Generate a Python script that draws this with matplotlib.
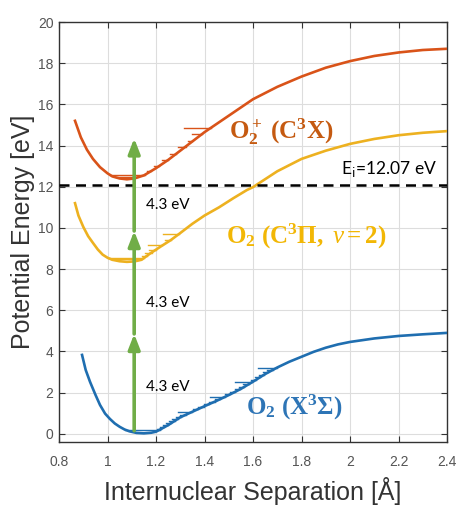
import numpy as np
import matplotlib.pyplot as plt

plt.rcParams['font.family'] = ['Liberation Sans', 'DejaVu Sans']
plt.rcParams['mathtext.fontset'] = 'custom'
plt.rcParams['mathtext.rm'] = 'Liberation Serif:bold'
plt.rcParams['mathtext.bf'] = 'Liberation Serif:bold'
plt.rcParams['mathtext.it'] = 'Liberation Serif:italic'

# potential curves (x in Angstrom, E in eV)
x_ground = [0.895, 0.91, 0.928, 0.95, 0.969, 0.99, 1.01, 1.03, 1.05, 1.07, 1.09, 1.12, 1.15, 1.18,
            1.2, 1.25, 1.3, 1.35, 1.4, 1.45, 1.5, 1.55, 1.6, 1.65, 1.7, 1.75, 1.8, 1.85, 1.9,
            1.95, 2.0, 2.1, 2.2, 2.3, 2.4]
e_ground = [3.83, 3.1, 2.52, 1.9, 1.4, 0.98, 0.72, 0.5, 0.34, 0.21, 0.12, 0.04, 0.02, 0.05,
            0.1, 0.42, 0.8, 1.07, 1.34, 1.6, 1.88, 2.18, 2.53, 2.9, 3.22, 3.5, 3.74, 3.98, 4.18,
            4.34, 4.46, 4.63, 4.75, 4.83, 4.9]

x_excited = [0.866, 0.88, 0.9, 0.92, 0.94, 0.96, 0.98, 1.0, 1.02, 1.05, 1.08, 1.11, 1.14, 1.175,
             1.22, 1.26, 1.3, 1.35, 1.4, 1.46, 1.52, 1.575, 1.6, 1.7, 1.8, 1.9, 2.0, 2.1, 2.2,
             2.3, 2.4]
e_excited = [11.2, 10.6, 10.05, 9.6, 9.27, 8.95, 8.7, 8.55, 8.45, 8.38, 8.35, 8.37, 8.45, 8.75,
             9.1, 9.4, 9.75, 10.2, 10.6, 11.0, 11.45, 11.84, 11.98, 12.75, 13.35, 13.75, 14.08,
             14.32, 14.5, 14.62, 14.7]

x_ion = [0.866, 0.89, 0.915, 0.94, 0.969, 1.0, 1.02, 1.05, 1.08, 1.11, 1.15, 1.2, 1.25, 1.3,
         1.35, 1.4, 1.45, 1.5, 1.55, 1.6, 1.7, 1.8, 1.9, 2.0, 2.1, 2.2, 2.3, 2.4]
e_ion = [15.2, 14.4, 13.8, 13.35, 12.95, 12.65, 12.5, 12.4, 12.36, 12.4, 12.55, 12.9, 13.3, 13.75,
         14.2, 14.65, 15.05, 15.45, 15.85, 16.25, 16.85, 17.35, 17.78, 18.1, 18.35, 18.52, 18.64,
         18.7]

# vibrational levels: energy and how far they reach left of the outer wall
lev_ground = [0.2, 0.22, 0.32, 0.42, 0.52, 0.62, 0.72, 0.82, 0.92, 1.07, 1.2, 1.32, 1.44, 1.56, 1.68,
              1.8, 1.92, 2.04, 2.16, 2.28, 2.4, 2.5, 2.62, 2.74, 2.86, 2.98, 3.1, 3.2]
len_ground = [1.0, 0.015, 0.02, 0.022, 0.022, 0.022, 0.022, 0.022, 0.022, 0.06, 0.022, 0.022, 0.022,
              0.022, 0.022, 0.065, 0.022, 0.022, 0.022, 0.022, 0.022, 0.07, 0.022, 0.022, 0.022,
              0.022, 0.022, 0.075]
lev_excited = [8.47, 8.55, 8.65, 8.8, 8.95, 9.15, 9.4, 9.7]
len_excited = [1.0, 1.0, 0.02, 0.025, 0.03, 0.06, 0.025, 0.065]
lev_ion = [12.45, 12.57, 12.75, 13.0, 13.3, 13.6, 13.95, 14.2, 14.55, 14.85]
len_ion = [1.0, 1.0, 0.015, 0.02, 0.025, 0.025, 0.03, 0.02, 0.04, 0.11]

# photon steps (green arrow)
x_photon = 1.11
photon_steps = [0.15, 4.85, 9.85, 14.35]
photon_label = '4.3 eV'
photon_label_y = [2.25, 6.35, 11.1]
e_ionization = 12.07

c_ground, c_excited, c_ion = '#1F6EB0', '#EDB120', '#D95319'


def draw_levels(ax, x, e, levels, lengths, color):
    x = np.array(x)
    e = np.array(e)
    i0 = np.argmin(e)
    for E, L in zip(levels, lengths):
        xr = np.interp(E, e[i0:], x[i0:])
        xl = np.interp(E, e[:i0 + 1][::-1], x[:i0 + 1][::-1])
        ax.plot([max(xl, xr - L), xr], [E, E], color=color, lw=1.0, zorder=2)


fig = plt.figure(figsize=(4.74, 5.13), dpi=100)
ax = fig.add_axes([0.1245, 0.1384, 0.8186, 0.8187])

ax.plot(x_ground, e_ground, color=c_ground, lw=1.9, zorder=3)
ax.plot(x_excited, e_excited, color=c_excited, lw=1.9, zorder=3)
ax.plot(x_ion, e_ion, color=c_ion, lw=1.9, zorder=3)
draw_levels(ax, x_ground, e_ground, lev_ground, len_ground, c_ground)
draw_levels(ax, x_excited, e_excited, lev_excited, len_excited, c_excited)
draw_levels(ax, x_ion, e_ion, lev_ion, len_ion, c_ion)

ax.axhline(e_ionization, color='black', lw=1.8, ls=(0, (4, 2.6)), zorder=4)
ax.text(2.36, e_ionization + 0.8, 'E$_{\\mathrm{i}}$=12.07 eV', ha='right', va='center',
        fontsize=12.5, family='Lato', math_fontfamily='dejavusans', color='black')

for y0, y1 in zip(photon_steps[:-1], photon_steps[1:]):
    ax.annotate('', xy=(x_photon, y1), xytext=(x_photon, y0),
                arrowprops=dict(arrowstyle='-|>,head_length=0.9,head_width=0.35',
                                color='#70AD47', lw=2.6, shrinkA=0, shrinkB=0), zorder=5)
for y in photon_label_y:
    ax.text(x_photon + 0.05, y, photon_label, fontsize=11, family='Lato', va='center')

ax.text(1.5, 14.65, r'$\mathrm{O_2^+\ (C^3X)}$', color='#C55A11', fontsize=18, va='center')
ax.text(1.49, 9.6, r'$\mathrm{O_2\ (C^3\Pi,}\ \mathit{v}=2\mathrm{)}$', color='#F2B705',
        fontsize=18, va='center')
ax.text(1.57, 1.3, r'$\mathrm{O_2\ (X^3\Sigma)}$', color='#2E75B6', fontsize=18, va='center')

ax.set_xlim(0.8, 2.4)
ax.set_ylim(-0.4, 20)
ax.set_xticks(np.arange(0.8, 2.41, 0.2))
ax.set_xticklabels(['0.8', '1', '1.2', '1.4', '1.6', '1.8', '2', '2.2', '2.4'])
ax.set_yticks(np.arange(0, 21, 2))
ax.grid(True, color='#DDDDDD', lw=0.8)
ax.set_axisbelow(True)
ax.tick_params(direction='in', length=4, width=0.8, colors='#333333', labelcolor='#555555',
               labelsize=10, top=True, right=True)
ax.tick_params(axis='x', pad=9)
ax.tick_params(axis='y', pad=4)
for s in ax.spines.values():
    s.set_color('#333333')
    s.set_linewidth(1.0)

ax.set_xlabel('Internuclear Separation [Å]', fontsize=18, color='#333333', labelpad=6)
ax.set_ylabel('Potential Energy [eV]', fontsize=18, color='#333333', labelpad=2)

fig.savefig('out.png', dpi=100)
